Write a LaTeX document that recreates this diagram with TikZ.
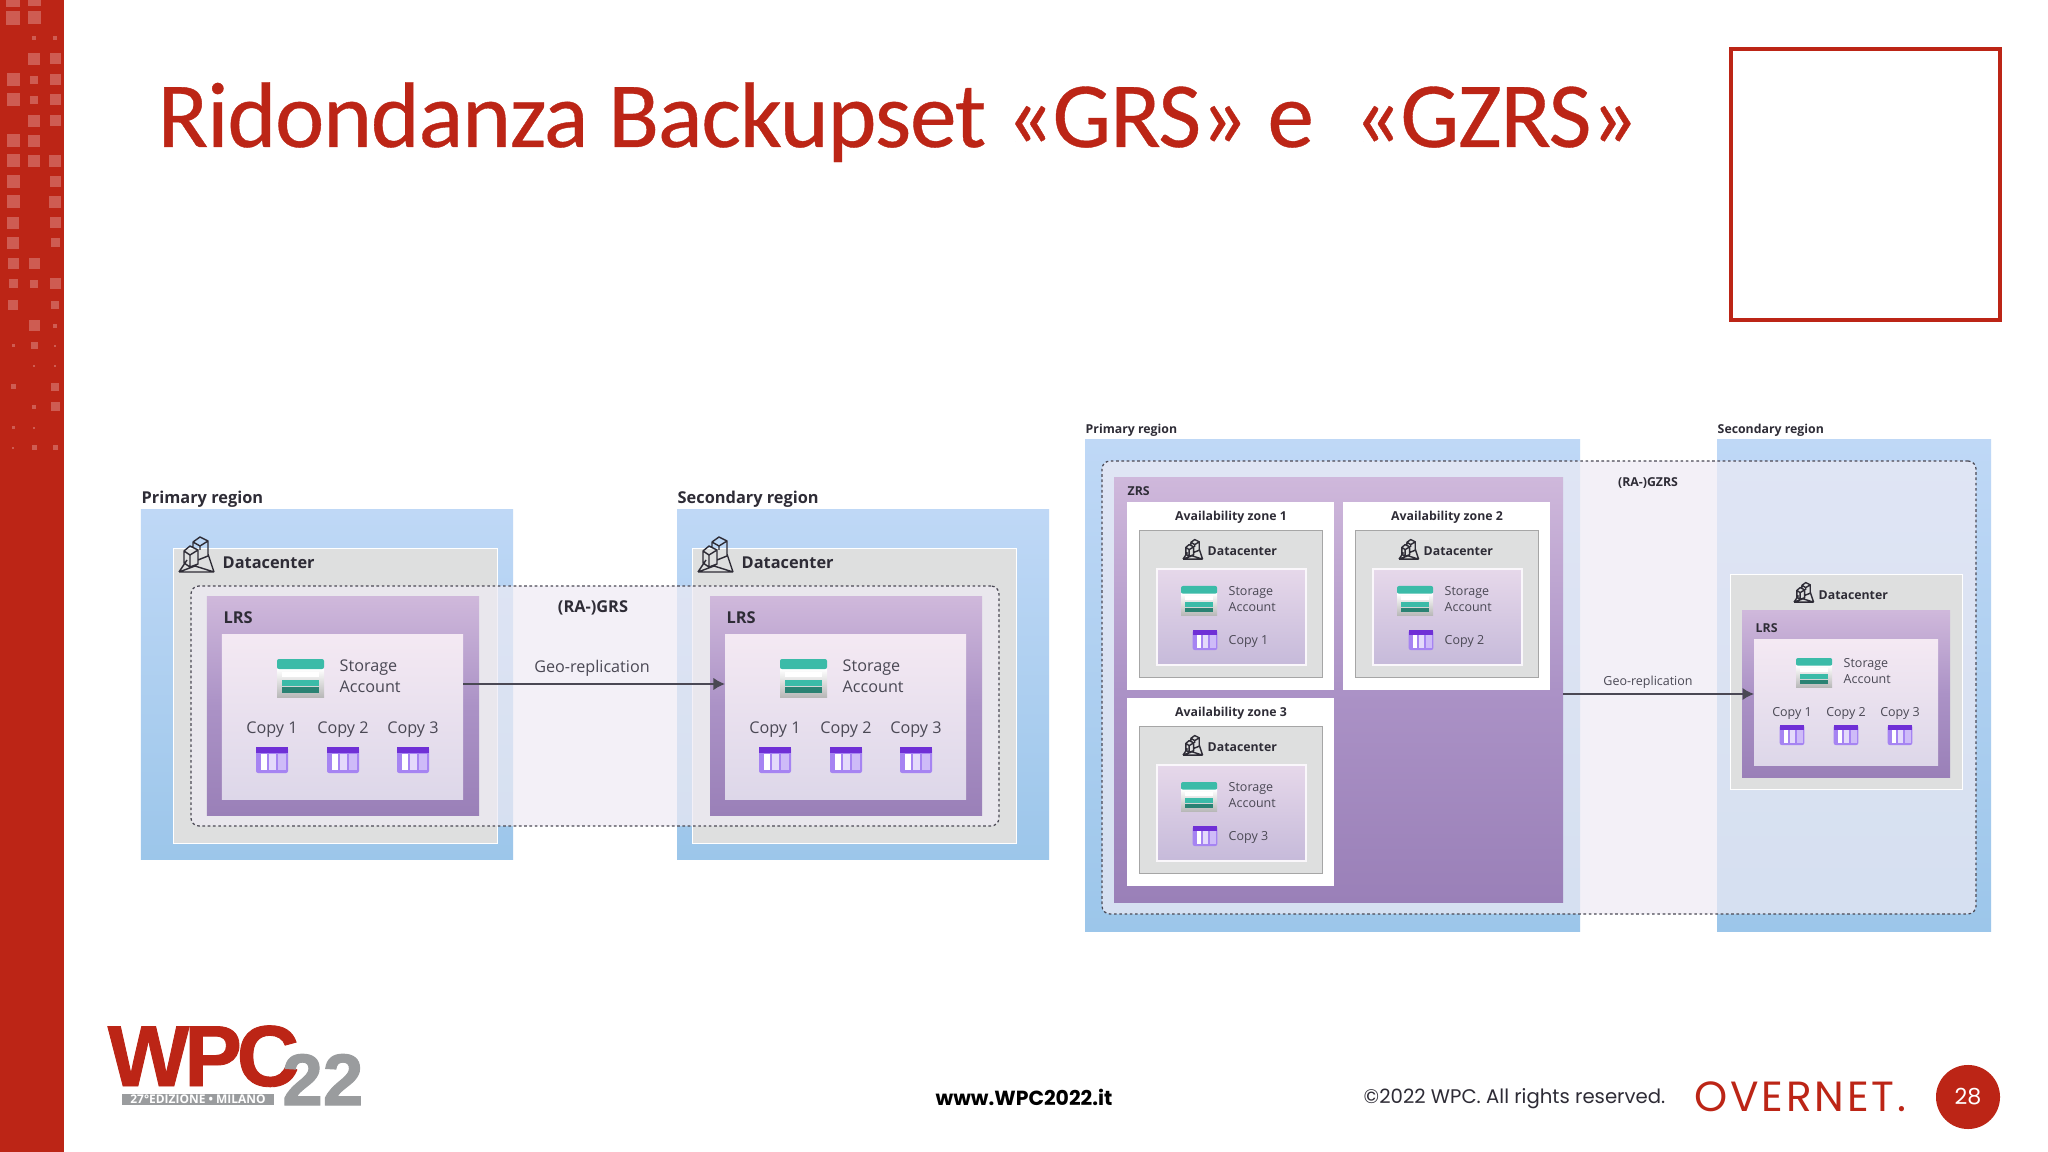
\documentclass[tikz,border=0pt]{standalone}
\usepackage{fontspec}
\usetikzlibrary{arrows.meta}
\setmainfont{Open Sans}
\newfontfamily\titlefont[LetterSpace=-1.25,FakeBold=0.4]{Carlito}
\newfontfamily\footfont{Poppins}
\newfontfamily\brandfont[LetterSpace=6.6]{Poppins}
\newfontfamily\logofont[LetterSpace=-6,FakeBold=1]{Liberation Sans}
\newfontfamily\yearfont[FakeBold=1.5]{Liberation Sans}

\definecolor{wpcred}{HTML}{BC2516}
\definecolor{spotred}{HTML}{CE5C52}
\definecolor{bluetop}{HTML}{BFD8F6}
\definecolor{bluebot}{HTML}{9CC6EA}
\definecolor{dcgrey}{HTML}{DEDFDF}
\definecolor{bandfill}{HTML}{EEEBF4}
\definecolor{purptop}{HTML}{CFB8DB}
\definecolor{purpmid}{HTML}{AB92C6}
\definecolor{purpbot}{HTML}{9A80B8}
\definecolor{paletop}{HTML}{F4E9F3}
\definecolor{palebot}{HTML}{DDD7E9}
\definecolor{softtop}{HTML}{E6D8EA}
\definecolor{softbot}{HTML}{C6BADA}
\definecolor{inkdark}{HTML}{2E2C36}
\definecolor{inkgrey}{HTML}{4A4854}
\definecolor{logogrey}{HTML}{9A9C9E}
\definecolor{storeteal}{HTML}{3BBBA8}
\definecolor{storedark}{HTML}{2A8273}
\definecolor{tabletop}{HTML}{6F2FD6}
\definecolor{tableedge}{HTML}{A684F2}

% box given by its corners, in pixels of the slide
\newcommand{\boxnode}[6]{
  \pgfmathsetmacro\boxw{(#5-(#3))*0.01}
  \pgfmathsetmacro\boxh{(#6-(#4))*0.01}
  \node[#1,minimum width=\boxw cm,minimum height=\boxh cm] (#2) at ({(#3+#5)/2},{(#4+#6)/2}) {};
}

\tikzset{
  storeicon/.pic={
    \shade[top color=white,bottom color=black!28] (0,10) rectangle (47,38);
    \fill[storeteal,rounded corners=0.02cm] (0,0) rectangle (47,10);
    \fill[white] (5,13) rectangle (42,18);
    \fill[storeteal] (5,21) rectangle (42,27);
    \fill[storedark] (5,28) rectangle (42,34);
  },
  tableicon/.pic={
    \fill[tableedge,rounded corners=0.02cm] (-16,0) rectangle (16,26);
    \fill[tabletop] (-16,0) rectangle (16,6);
    \fill[white] (-11,7) rectangle (-5,23);
    \fill[tableedge!30] (-3,7) rectangle (4,23);
    \fill[tableedge!55] (6,7) rectangle (14,23);
  },
  dcicon/.pic={
    \draw[inkdark,line width=0.4pt,line join=round]
      (0,36) -- (8,24) (35,36) -- (29,18) (0,36) -- (35,36)
      (0,36) -- (16,30) -- (35,36)
      (14,6) -- (21,1) -- (29,5) -- (29,20) -- (19,24)
      (14,6) -- (14,11) (21,10) -- (29,5) (14,6) -- (21,10) -- (21,14)
      (5,15) -- (11,10) -- (19,14) -- (19,28) -- (11,31) -- (5,27) -- cycle
      (5,15) -- (11,19) -- (19,14) (11,19) -- (11,31);
  }
}

\begin{document}
\begin{tikzpicture}[x=0.01cm,y=-0.01cm,
    plainbox/.style={rectangle,inner sep=0pt,outer sep=0pt},
    regionbox/.style={plainbox,top color=bluetop,bottom color=bluebot},
    dcbox/.style={plainbox,fill=dcgrey,draw=white,line width=0.2pt},
    dcedge/.style={plainbox,fill=dcgrey,draw=black!35,line width=0.25pt},
    bandbox/.style={plainbox,draw=inkgrey,fill=bandfill,fill opacity=0.7,dash pattern=on 0.75pt off 0.75pt,line width=0.35pt,rounded corners=0.08cm},
    lrsbox/.style={plainbox,top color=purptop,bottom color=purpbot,middle color=purpmid},
    innerbox/.style={plainbox,top color=paletop,bottom color=palebot},
    softbox/.style={plainbox,top color=softtop,bottom color=softbot,draw=white!80!softtop,line width=0.3pt},
    zonebox/.style={plainbox,fill=white},
    framebox/.style={plainbox,draw=wpcred,line width=1pt},
    geoarrow/.style={draw=inkgrey,line width=0.55pt,-{Latex[length=0.115cm,width=0.125cm]}},
    bigbold/.style={inner sep=0pt,text=inkdark,text height=0.72em,text depth=0.4em,font=\fontsize{4.65}{5.6}\selectfont\bfseries},
    bigtext/.style={inner sep=0pt,text=inkgrey,text height=0.72em,text depth=0.4em,font=\fontsize{4.6}{5.6}\selectfont},
    bigtwo/.style={inner sep=0pt,text=inkgrey,align=left,anchor=west,font=\fontsize{4.6}{6}\selectfont},
    smallbold/.style={inner sep=0pt,text=inkdark,text height=0.72em,text depth=0.4em,font=\fontsize{3.5}{4.3}\selectfont\bfseries},
    smalltext/.style={inner sep=0pt,text=inkgrey,text height=0.72em,text depth=0.4em,font=\fontsize{3.55}{4.3}\selectfont},
    smalltwo/.style={inner sep=0pt,text=inkgrey,align=left,anchor=west,font=\fontsize{3.55}{4.3}\selectfont}]

  \useasboundingbox (0,0) rectangle (2048,1152);
  \fill[white] (0,0) rectangle (2048,1152);

  % Red side bar
  \fill[wpcred] (0,0) rectangle (64,1152);
  \foreach \ypos/\sa/\sb/\sc in {0/14/13/0, 18/14/13/0, 38/0/4/4, 59/0/12/11, 80/13/8/11, 100/13/8/11, 121/0/12/11, 141/13/12/0,
      161/13/12/12, 182/13/0/11, 202/13/0/12, 223/12/0/11, 243/12/0/9, 264/11/11/0, 284/9/8/11, 305/10/0/8,
      326/0/11/4, 346/3/7/2, 366/0/2/2, 387/5/0/8, 407/0/4/9, 428/3/2/0, 448/2/5/5}
    \foreach \colx/\size in {13/\sa, 34/\sb, 55/\sc}
      \fill[spotred] ({\colx-\size/2},{\ypos-\size/2}) rectangle ({\colx+\size/2},{\ypos+\size/2});

  % Title and empty frame
  \node[anchor=base west,inner sep=0pt,text=wpcred,font=\fontsize{26.5}{32}\titlefont] (title) at (157,147) {Ridondanza Backupset «GRS» e\ \ «GZRS»};
  \boxnode{framebox}{frame}{1731}{49}{2000}{320}

  % GRS regions
  \foreach \id/\bx/\gx in {a/0/0, b/536/519} {
    \boxnode{regionbox}{regionGRS\id}{141+\bx}{510}{513+\bx}{859}
    \boxnode{dcbox}{dcGRS\id}{173+\gx}{548}{497+\gx}{843}
  }
  \boxnode{bandbox}{bandGRS}{191}{586}{999}{826}
  \node[bigbold,anchor=west] (primaryGRS) at (141,498) {Primary region};
  \node[bigbold,anchor=west] (secondaryGRS) at (677,498) {Secondary region};

  \foreach \id/\gx/\bx in {a/0/0, b/519/503} {
    \boxnode{lrsbox}{lrsGRS\id}{207+\bx}{597}{479+\bx}{815}
    \boxnode{innerbox}{innerGRS\id}{222+\bx}{635}{463+\bx}{799}
    \pic at (179+\gx,536) {dcicon};
    \node[bigbold,anchor=west] (dcnameGRS\id) at (222+\gx,563) {Datacenter};
    \node[bigbold,anchor=west] (lrsnameGRS\id) at (223+\bx,618) {LRS};
    \pic at (277+\bx,659) {storeicon};
    \node[bigtwo] (storeGRS\id) at (339+\bx,676) {Storage\\Account};
    \foreach \cx/\n in {272/1, 343/2, 413/3} {
      \node[bigtext] (copyGRS\id\n) at (\cx+\bx,728) {Copy \n};
      \pic at (\cx+\bx,747) {tableicon};
    }
  }

  \node[bigbold] (modeGRS) at (593,607) {(RA-)GRS};
  \node[bigtext] (geoGRS) at (592,667) {Geo-replication};
  \coordinate (levelGRS) at (0,684);
  \draw[geoarrow] (innerGRSa.east |- levelGRS) -- (innerGRSb.west |- levelGRS);

  % GZRS regions
  \boxnode{regionbox}{regionGZRSa}{1085}{440}{1580}{931}
  \boxnode{regionbox}{regionGZRSb}{1717}{440}{1991}{931}
  \boxnode{bandbox}{bandGZRS}{1102}{461}{1976}{914}
  \node[smallbold,anchor=west] (primaryGZRS) at (1085,428) {Primary region};
  \node[smallbold,anchor=west] (secondaryGZRS) at (1717,428) {Secondary region};

  \boxnode{lrsbox}{zrsGZRS}{1114}{478}{1563}{902}
  \node[smallbold,anchor=west] (zrsname) at (1127,490) {ZRS};

  \foreach \id/\ax/\ay in {1/0/0, 2/216/0, 3/0/196} {
    \boxnode{zonebox}{zone\id}{1127+\ax}{502+\ay}{1334+\ax}{690+\ay}
    \node[smallbold] (zonename\id) at (1231+\ax,515+\ay) {Availability zone \id};
    \boxnode{dcedge}{dczone\id}{1139+\ax}{530+\ay}{1322+\ax}{677+\ay}
    \pic[scale=0.56] at (1183+\ax,539+\ay) {dcicon};
    \node[smallbold,anchor=west] (dcnamezone\id) at (1207+\ax,550+\ay) {Datacenter};
    \boxnode{softbox}{innerzone\id}{1157+\ax}{569+\ay}{1306+\ax}{665+\ay}
    \pic[scale=0.77] at (1181+\ax,586+\ay) {storeicon};
    \node[smalltwo] (storezone\id) at (1228+\ax,599+\ay) {Storage\\Account};
    \pic[scale=0.77] at (1205+\ax,630+\ay) {tableicon};
    \node[smalltext,anchor=west] (copyzone\id) at (1228+\ax,639+\ay) {Copy \id};
  }

  \boxnode{dcbox}{dcGZRS}{1730}{574}{1962}{789}
  \pic[scale=0.56] at (1794,582) {dcicon};
  \node[smallbold,anchor=west] (dcnameGZRS) at (1818,594) {Datacenter};
  \boxnode{lrsbox}{lrsGZRS}{1742}{611}{1950}{777}
  \node[smallbold,anchor=west] (lrsnameGZRS) at (1755,627) {LRS};
  \boxnode{innerbox}{innerGZRS}{1754}{640}{1938}{765}
  \pic[scale=0.77] at (1796,658) {storeicon};
  \node[smalltwo] (storeGZRS) at (1843,671) {Storage\\Account};
  \foreach \cx/\n in {1792/1, 1846/2, 1900/3} {
    \node[smalltext] (copyGZRS\n) at (\cx,711) {Copy \n};
    \pic[scale=0.77] at (\cx,725) {tableicon};
  }

  \node[smallbold] (modeGZRS) at (1648,481) {(RA-)GZRS};
  \node[smalltext] (geoGZRS) at (1648,680) {Geo-replication};
  \coordinate (levelGZRS) at (0,694);
  \draw[geoarrow] (zrsGZRS.east |- levelGZRS) -- (innerGZRS.west |- levelGZRS);

  % Logo and footer
  \node[anchor=base west,inner sep=0pt,text=wpcred,font=\fontsize{24.6}{28}\logofont\bfseries] (logoname) at (107,1086) {WPC};
  \node[anchor=base east,inner sep=0pt,text=logogrey,font=\fontsize{20.7}{24}\yearfont\bfseries] (logoyear) at (364,1105) {22};
  \boxnode{plainbox,fill=logogrey}{logobar}{122}{1094}{274}{1105}
  \node[inner sep=0pt,text=white,font=\fontsize{3.4}{4}\selectfont\bfseries] (logoedition) at (logobar) {27°EDIZIONE • MILANO};
  \node[inner sep=0pt,text=black,font=\fontsize{5.8}{6}\footfont\bfseries] (website) at (1024,1097) {www.WPC2022.it};
  \node[anchor=west,inner sep=0pt,text=inkdark,font=\fontsize{5.6}{6}\footfont] (rights) at (1363,1099) {©2022 WPC. All rights reserved.};
  \node[anchor=west,inner sep=0pt,text=wpcred,font=\fontsize{12}{14}\brandfont] (brand) at (1694,1097) {OVERNET.};
  \node[circle,fill=wpcred,minimum size=0.64cm,inner sep=0pt,text=white,font=\fontsize{6.3}{7}\footfont] (pageno) at (1968,1097) {28};
\end{tikzpicture}
\end{document}
